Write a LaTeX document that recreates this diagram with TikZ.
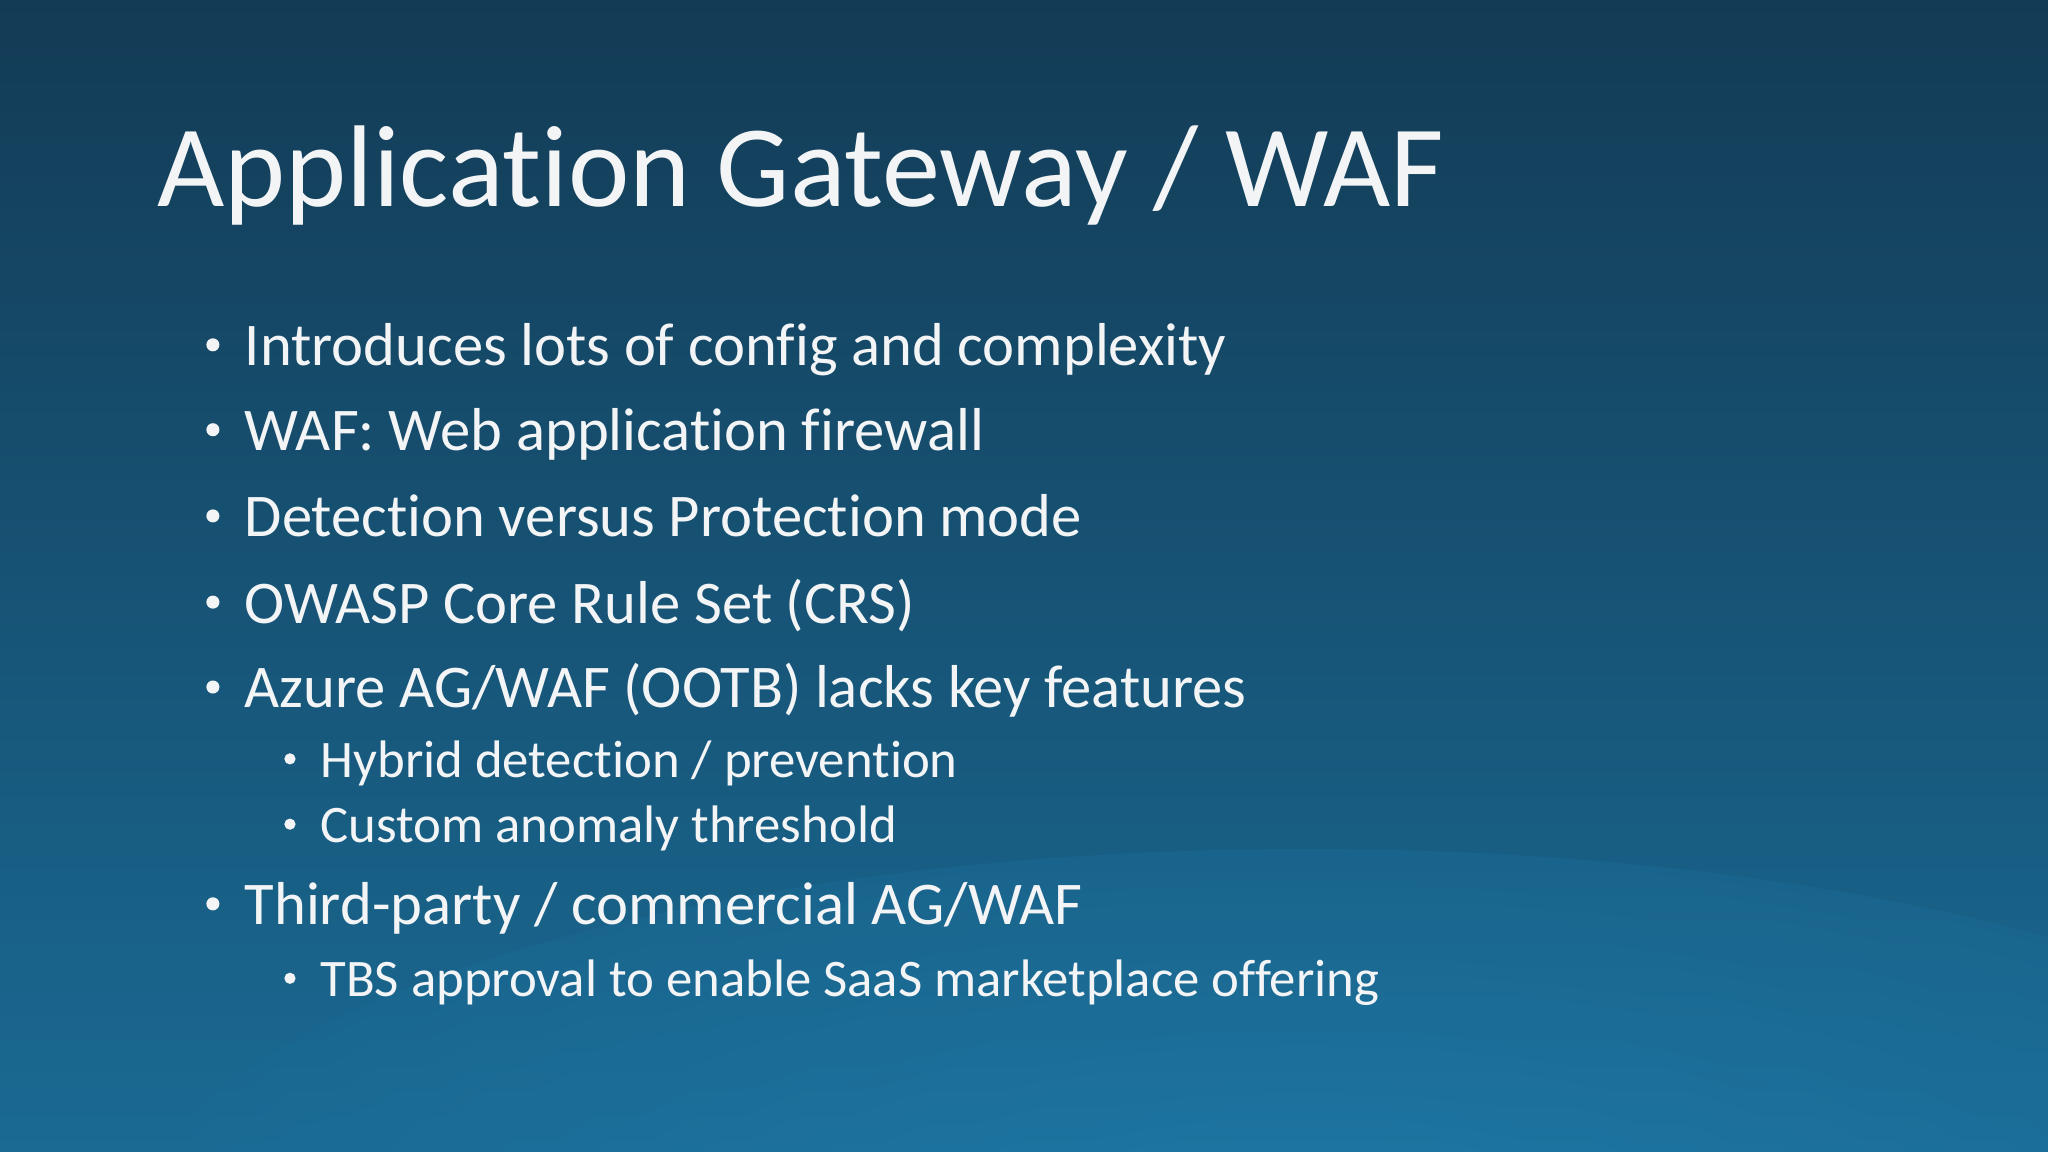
\documentclass[tikz,border=0pt]{standalone}
\usepackage{fontspec}
\setmainfont{Carlito}[Ligatures=NoCommon]
\definecolor{bgtop}{HTML}{133B55}
\definecolor{bgbot}{HTML}{1A6A94}
\definecolor{glow}{HTML}{2285B5}
\definecolor{txt}{HTML}{F2F4F5}
\begin{document}
\begin{tikzpicture}[x=0.5pt,y=-0.5pt,
  title/.style={anchor=base west,text=txt,font=\fontsize{44.5}{50}\selectfont,inner sep=0},
  lvlone/.style={anchor=base west,text=txt,font=\fontsize{23.2}{28}\selectfont,inner sep=0},
  lvltwo/.style={anchor=base west,text=txt,font=\fontsize{20.2}{24}\selectfont,inner sep=0}]
\useasboundingbox (0,0) rectangle (1568,882);
\shade[top color=bgtop,bottom color=bgbot] (0,0) rectangle (1568,882);
\begin{scope}
\clip (0,0) rectangle (1568,882);
\shade[inner color=glow,outer color=bgbot,opacity=0.5] (1000,950) ellipse (900 and 300);
\end{scope}
\node[title] (t) at (120,158) {Application Gateway / WAF};
\foreach \i/\y/\s in {a/280/{Introduces lots of config and complexity},
  b/345/{WAF: Web application firewall},
  c/411/{Detection versus Protection mode},
  d/477/{OWASP Core Rule Set (CRS)},
  e/542/{Azure AG/WAF (OOTB) lacks key features},
  f/708/{Third-party / commercial AG/WAF}}{
  \node[lvlone] (\i) at (187,\y) {\s};
  \fill[txt] (163,\y-16) circle (5);
}
\foreach \i/\y/\s in {g/595/{Hybrid detection / prevention},
  h/645/{Custom anomaly threshold},
  k/763/{TBS approval to enable SaaS marketplace offering}}{
  \node[lvltwo] (\i) at (245,\y) {\s};
  \fill[txt] (222,\y-14) circle (4.3);
}
\end{tikzpicture}
\end{document}
